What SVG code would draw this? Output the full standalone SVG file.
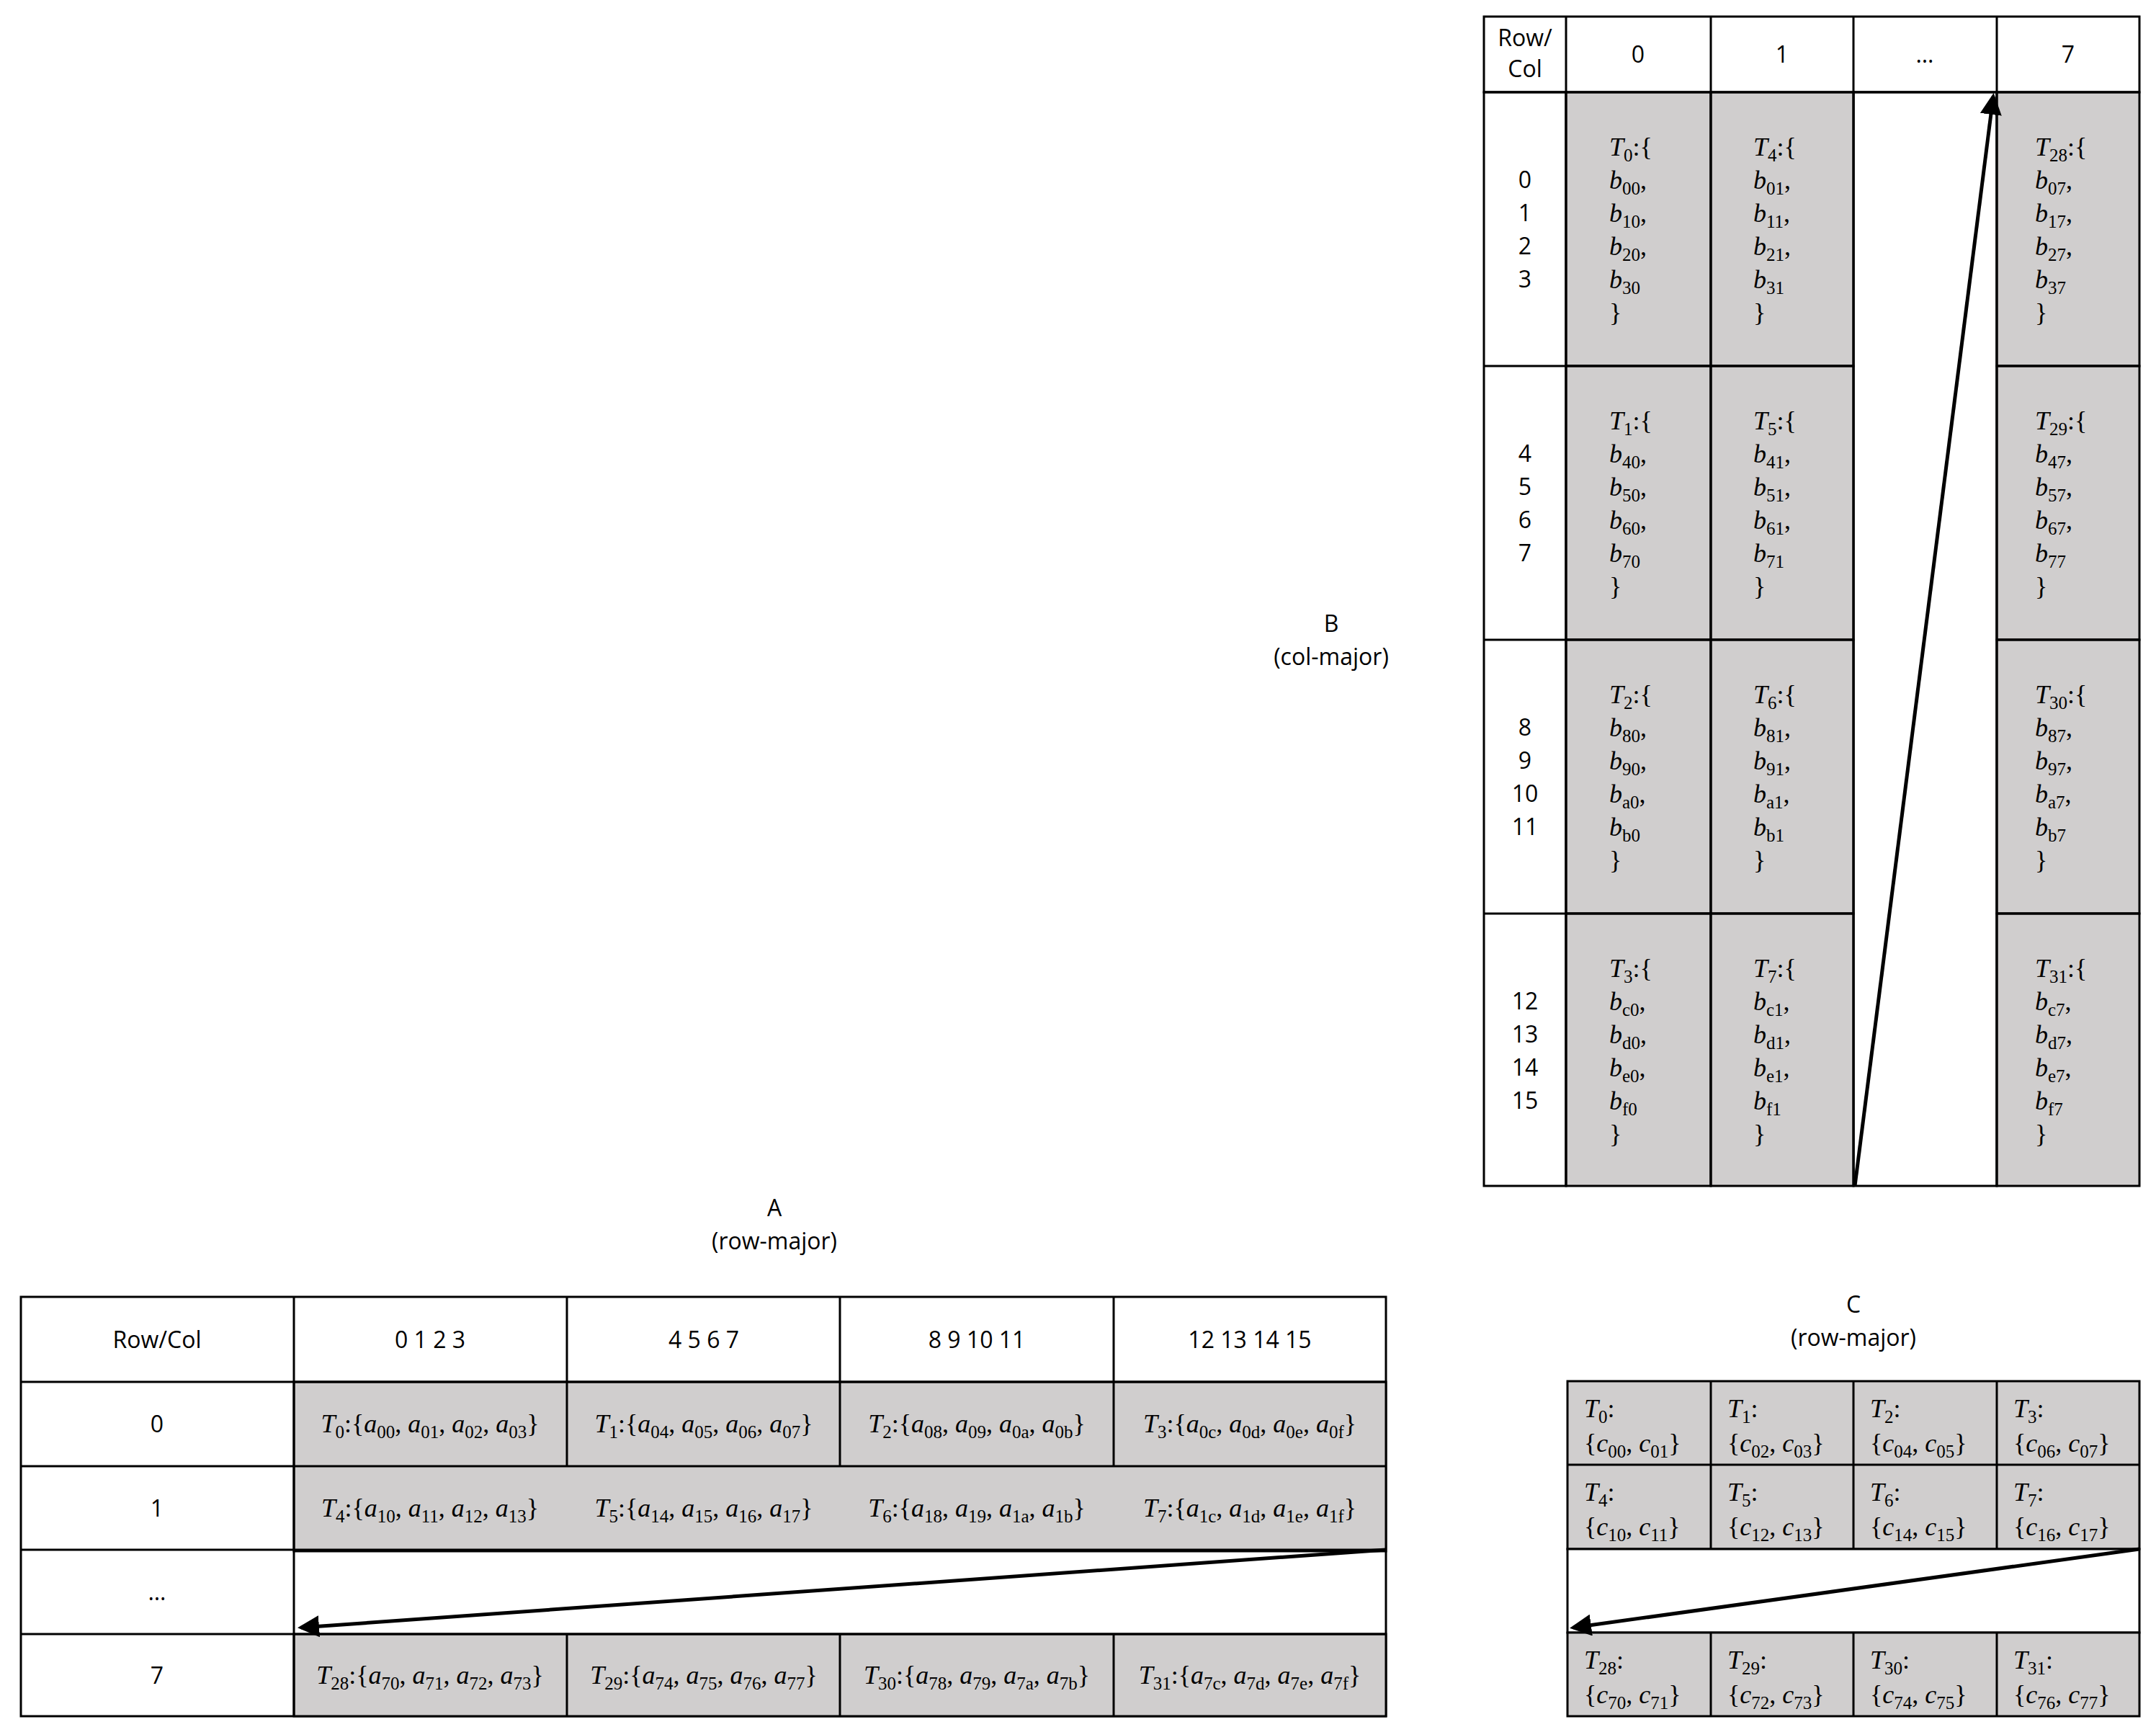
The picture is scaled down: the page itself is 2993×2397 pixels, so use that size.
<svg xmlns="http://www.w3.org/2000/svg" width="2993" height="2397" viewBox="0 0 2993 2397">
<style>
.t{font-family:"Open Sans","Liberation Sans",sans-serif;font-size:32px;fill:#000}
.c{text-anchor:middle}
.m{font-family:"Liberation Serif",serif;font-size:36px;fill:#000}
.i{font-style:italic}
.s{font-size:25px}
.g{fill:#d0cece;stroke:#000;stroke-width:3}
.w{fill:#fff;stroke:#000;stroke-width:3}
.a{stroke:#000;stroke-width:5;fill:none;marker-end:url(#ah)}
</style>
<defs><marker id="ah" markerWidth="6" markerHeight="6" refX="5" refY="3" orient="auto" markerUnits="strokeWidth"><path d="M0,0 L6,3 L0,6 Z" fill="#000"/></marker></defs>
<rect width="2993" height="2397" fill="#fff"/>

<g id="B">
<text class="t c" x="1848" y="877">B</text><text class="t c" x="1848" y="923">(col-major)</text>
<rect class="w" x="2060" y="23" width="910" height="105"/>
<rect class="w" x="2060" y="128" width="114" height="1518"/>
<rect class="w" x="2573" y="128" width="199" height="1518"/>
<rect class="g" x="2174" y="128" width="201" height="380"/><rect class="g" x="2375" y="128" width="198" height="380"/><rect class="g" x="2772" y="128" width="198" height="380"/>
<rect class="g" x="2174" y="508" width="201" height="380"/><rect class="g" x="2375" y="508" width="198" height="380"/><rect class="g" x="2772" y="508" width="198" height="380"/>
<rect class="g" x="2174" y="888" width="201" height="380"/><rect class="g" x="2375" y="888" width="198" height="380"/><rect class="g" x="2772" y="888" width="198" height="380"/>
<rect class="g" x="2174" y="1268" width="201" height="378"/><rect class="g" x="2375" y="1268" width="198" height="378"/><rect class="g" x="2772" y="1268" width="198" height="378"/>
<path d="M2174 23V1646M2375 23V1646M2573 23V1646M2772 23V1646M2060 128H2970M2060 508H2573M2772 508H2970M2060 888H2573M2772 888H2970M2060 1268H2573M2772 1268H2970" stroke="#000" stroke-width="3"/>
<text class="t c" x="2117" y="64">Row/</text><text class="t c" x="2117" y="107">Col</text>
<text class="t c" x="2274" y="87">0</text><text class="t c" x="2474" y="87">1</text><text class="t c" x="2672" y="87">…</text><text class="t c" x="2871" y="87">7</text>
<g class="t c"><text x="2117" y="261">0</text><text x="2117" y="307">1</text><text x="2117" y="353">2</text><text x="2117" y="399">3</text>
<text x="2117" y="641">4</text><text x="2117" y="687">5</text><text x="2117" y="733">6</text><text x="2117" y="779">7</text>
<text x="2117" y="1021">8</text><text x="2117" y="1067">9</text><text x="2117" y="1113">10</text><text x="2117" y="1159">11</text>
<text x="2117" y="1401">12</text><text x="2117" y="1447">13</text><text x="2117" y="1493">14</text><text x="2117" y="1539">15</text></g>
<g class="m">
<text x="2234" y="216"><tspan class="i">T</tspan><tspan class="s" dy="8">0</tspan><tspan dy="-8">:{</tspan><tspan class="i" x="2234" dy="46">b</tspan><tspan class="s" dy="8">00</tspan><tspan dy="-8">,</tspan><tspan class="i" x="2234" dy="46">b</tspan><tspan class="s" dy="8">10</tspan><tspan dy="-8">,</tspan><tspan class="i" x="2234" dy="46">b</tspan><tspan class="s" dy="8">20</tspan><tspan dy="-8">,</tspan><tspan class="i" x="2234" dy="46">b</tspan><tspan class="s" dy="8">30</tspan><tspan x="2234" dy="38">}</tspan></text>
<text x="2434" y="216"><tspan class="i">T</tspan><tspan class="s" dy="8">4</tspan><tspan dy="-8">:{</tspan><tspan class="i" x="2434" dy="46">b</tspan><tspan class="s" dy="8">01</tspan><tspan dy="-8">,</tspan><tspan class="i" x="2434" dy="46">b</tspan><tspan class="s" dy="8">11</tspan><tspan dy="-8">,</tspan><tspan class="i" x="2434" dy="46">b</tspan><tspan class="s" dy="8">21</tspan><tspan dy="-8">,</tspan><tspan class="i" x="2434" dy="46">b</tspan><tspan class="s" dy="8">31</tspan><tspan x="2434" dy="38">}</tspan></text>
<text x="2825" y="216"><tspan class="i">T</tspan><tspan class="s" dy="8">28</tspan><tspan dy="-8">:{</tspan><tspan class="i" x="2825" dy="46">b</tspan><tspan class="s" dy="8">07</tspan><tspan dy="-8">,</tspan><tspan class="i" x="2825" dy="46">b</tspan><tspan class="s" dy="8">17</tspan><tspan dy="-8">,</tspan><tspan class="i" x="2825" dy="46">b</tspan><tspan class="s" dy="8">27</tspan><tspan dy="-8">,</tspan><tspan class="i" x="2825" dy="46">b</tspan><tspan class="s" dy="8">37</tspan><tspan x="2825" dy="38">}</tspan></text>
<text x="2234" y="596"><tspan class="i">T</tspan><tspan class="s" dy="8">1</tspan><tspan dy="-8">:{</tspan><tspan class="i" x="2234" dy="46">b</tspan><tspan class="s" dy="8">40</tspan><tspan dy="-8">,</tspan><tspan class="i" x="2234" dy="46">b</tspan><tspan class="s" dy="8">50</tspan><tspan dy="-8">,</tspan><tspan class="i" x="2234" dy="46">b</tspan><tspan class="s" dy="8">60</tspan><tspan dy="-8">,</tspan><tspan class="i" x="2234" dy="46">b</tspan><tspan class="s" dy="8">70</tspan><tspan x="2234" dy="38">}</tspan></text>
<text x="2434" y="596"><tspan class="i">T</tspan><tspan class="s" dy="8">5</tspan><tspan dy="-8">:{</tspan><tspan class="i" x="2434" dy="46">b</tspan><tspan class="s" dy="8">41</tspan><tspan dy="-8">,</tspan><tspan class="i" x="2434" dy="46">b</tspan><tspan class="s" dy="8">51</tspan><tspan dy="-8">,</tspan><tspan class="i" x="2434" dy="46">b</tspan><tspan class="s" dy="8">61</tspan><tspan dy="-8">,</tspan><tspan class="i" x="2434" dy="46">b</tspan><tspan class="s" dy="8">71</tspan><tspan x="2434" dy="38">}</tspan></text>
<text x="2825" y="596"><tspan class="i">T</tspan><tspan class="s" dy="8">29</tspan><tspan dy="-8">:{</tspan><tspan class="i" x="2825" dy="46">b</tspan><tspan class="s" dy="8">47</tspan><tspan dy="-8">,</tspan><tspan class="i" x="2825" dy="46">b</tspan><tspan class="s" dy="8">57</tspan><tspan dy="-8">,</tspan><tspan class="i" x="2825" dy="46">b</tspan><tspan class="s" dy="8">67</tspan><tspan dy="-8">,</tspan><tspan class="i" x="2825" dy="46">b</tspan><tspan class="s" dy="8">77</tspan><tspan x="2825" dy="38">}</tspan></text>
<text x="2234" y="976"><tspan class="i">T</tspan><tspan class="s" dy="8">2</tspan><tspan dy="-8">:{</tspan><tspan class="i" x="2234" dy="46">b</tspan><tspan class="s" dy="8">80</tspan><tspan dy="-8">,</tspan><tspan class="i" x="2234" dy="46">b</tspan><tspan class="s" dy="8">90</tspan><tspan dy="-8">,</tspan><tspan class="i" x="2234" dy="46">b</tspan><tspan class="s" dy="8">a0</tspan><tspan dy="-8">,</tspan><tspan class="i" x="2234" dy="46">b</tspan><tspan class="s" dy="8">b0</tspan><tspan x="2234" dy="38">}</tspan></text>
<text x="2434" y="976"><tspan class="i">T</tspan><tspan class="s" dy="8">6</tspan><tspan dy="-8">:{</tspan><tspan class="i" x="2434" dy="46">b</tspan><tspan class="s" dy="8">81</tspan><tspan dy="-8">,</tspan><tspan class="i" x="2434" dy="46">b</tspan><tspan class="s" dy="8">91</tspan><tspan dy="-8">,</tspan><tspan class="i" x="2434" dy="46">b</tspan><tspan class="s" dy="8">a1</tspan><tspan dy="-8">,</tspan><tspan class="i" x="2434" dy="46">b</tspan><tspan class="s" dy="8">b1</tspan><tspan x="2434" dy="38">}</tspan></text>
<text x="2825" y="976"><tspan class="i">T</tspan><tspan class="s" dy="8">30</tspan><tspan dy="-8">:{</tspan><tspan class="i" x="2825" dy="46">b</tspan><tspan class="s" dy="8">87</tspan><tspan dy="-8">,</tspan><tspan class="i" x="2825" dy="46">b</tspan><tspan class="s" dy="8">97</tspan><tspan dy="-8">,</tspan><tspan class="i" x="2825" dy="46">b</tspan><tspan class="s" dy="8">a7</tspan><tspan dy="-8">,</tspan><tspan class="i" x="2825" dy="46">b</tspan><tspan class="s" dy="8">b7</tspan><tspan x="2825" dy="38">}</tspan></text>
<text x="2234" y="1356"><tspan class="i">T</tspan><tspan class="s" dy="8">3</tspan><tspan dy="-8">:{</tspan><tspan class="i" x="2234" dy="46">b</tspan><tspan class="s" dy="8">c0</tspan><tspan dy="-8">,</tspan><tspan class="i" x="2234" dy="46">b</tspan><tspan class="s" dy="8">d0</tspan><tspan dy="-8">,</tspan><tspan class="i" x="2234" dy="46">b</tspan><tspan class="s" dy="8">e0</tspan><tspan dy="-8">,</tspan><tspan class="i" x="2234" dy="46">b</tspan><tspan class="s" dy="8">f0</tspan><tspan x="2234" dy="38">}</tspan></text>
<text x="2434" y="1356"><tspan class="i">T</tspan><tspan class="s" dy="8">7</tspan><tspan dy="-8">:{</tspan><tspan class="i" x="2434" dy="46">b</tspan><tspan class="s" dy="8">c1</tspan><tspan dy="-8">,</tspan><tspan class="i" x="2434" dy="46">b</tspan><tspan class="s" dy="8">d1</tspan><tspan dy="-8">,</tspan><tspan class="i" x="2434" dy="46">b</tspan><tspan class="s" dy="8">e1</tspan><tspan dy="-8">,</tspan><tspan class="i" x="2434" dy="46">b</tspan><tspan class="s" dy="8">f1</tspan><tspan x="2434" dy="38">}</tspan></text>
<text x="2825" y="1356"><tspan class="i">T</tspan><tspan class="s" dy="8">31</tspan><tspan dy="-8">:{</tspan><tspan class="i" x="2825" dy="46">b</tspan><tspan class="s" dy="8">c7</tspan><tspan dy="-8">,</tspan><tspan class="i" x="2825" dy="46">b</tspan><tspan class="s" dy="8">d7</tspan><tspan dy="-8">,</tspan><tspan class="i" x="2825" dy="46">b</tspan><tspan class="s" dy="8">e7</tspan><tspan dy="-8">,</tspan><tspan class="i" x="2825" dy="46">b</tspan><tspan class="s" dy="8">f7</tspan><tspan x="2825" dy="38">}</tspan></text>
</g>
</g>

<g id="A">
<text class="t c" x="1075" y="1688">A</text><text class="t c" x="1075" y="1734">(row-major)</text>
<rect class="w" x="29" y="1800" width="1895" height="582"/>
<rect class="g" x="408" y="1918" width="1516" height="235"/>
<rect class="g" x="408" y="2268" width="1516" height="114"/>
<path d="M29 1918H1924M29 2035H1924M29 2151H1924M29 2268H1924M408 1800V2382M787 1800V2035M1166 1800V2035M1546 1800V2035M787 2268V2382M1166 2268V2382M1546 2268V2382" stroke="#000" stroke-width="3"/>
<g class="t c"><text x="218" y="1871">Row/Col</text><text x="597" y="1871">0 1 2 3</text><text x="977" y="1871">4 5 6 7</text><text x="1356" y="1871">8 9 10 11</text><text x="1735" y="1871">12 13 14 15</text>
<text x="218" y="1988">0</text><text x="218" y="2105">1</text><text x="218" y="2221">…</text><text x="218" y="2337">7</text></g>
<g class="m c">
<text x="597" y="1988"><tspan class="i">T</tspan><tspan class="s" dy="8">0</tspan><tspan dy="-8">:{</tspan><tspan class="i">a</tspan><tspan class="s" dy="8">00</tspan><tspan dy="-8">, </tspan><tspan class="i">a</tspan><tspan class="s" dy="8">01</tspan><tspan dy="-8">, </tspan><tspan class="i">a</tspan><tspan class="s" dy="8">02</tspan><tspan dy="-8">, </tspan><tspan class="i">a</tspan><tspan class="s" dy="8">03</tspan><tspan dy="-8">}</tspan></text>
<text x="977" y="1988"><tspan class="i">T</tspan><tspan class="s" dy="8">1</tspan><tspan dy="-8">:{</tspan><tspan class="i">a</tspan><tspan class="s" dy="8">04</tspan><tspan dy="-8">, </tspan><tspan class="i">a</tspan><tspan class="s" dy="8">05</tspan><tspan dy="-8">, </tspan><tspan class="i">a</tspan><tspan class="s" dy="8">06</tspan><tspan dy="-8">, </tspan><tspan class="i">a</tspan><tspan class="s" dy="8">07</tspan><tspan dy="-8">}</tspan></text>
<text x="1356" y="1988"><tspan class="i">T</tspan><tspan class="s" dy="8">2</tspan><tspan dy="-8">:{</tspan><tspan class="i">a</tspan><tspan class="s" dy="8">08</tspan><tspan dy="-8">, </tspan><tspan class="i">a</tspan><tspan class="s" dy="8">09</tspan><tspan dy="-8">, </tspan><tspan class="i">a</tspan><tspan class="s" dy="8">0a</tspan><tspan dy="-8">, </tspan><tspan class="i">a</tspan><tspan class="s" dy="8">0b</tspan><tspan dy="-8">}</tspan></text>
<text x="1735" y="1988"><tspan class="i">T</tspan><tspan class="s" dy="8">3</tspan><tspan dy="-8">:{</tspan><tspan class="i">a</tspan><tspan class="s" dy="8">0c</tspan><tspan dy="-8">, </tspan><tspan class="i">a</tspan><tspan class="s" dy="8">0d</tspan><tspan dy="-8">, </tspan><tspan class="i">a</tspan><tspan class="s" dy="8">0e</tspan><tspan dy="-8">, </tspan><tspan class="i">a</tspan><tspan class="s" dy="8">0f</tspan><tspan dy="-8">}</tspan></text>
<text x="597" y="2105"><tspan class="i">T</tspan><tspan class="s" dy="8">4</tspan><tspan dy="-8">:{</tspan><tspan class="i">a</tspan><tspan class="s" dy="8">10</tspan><tspan dy="-8">, </tspan><tspan class="i">a</tspan><tspan class="s" dy="8">11</tspan><tspan dy="-8">, </tspan><tspan class="i">a</tspan><tspan class="s" dy="8">12</tspan><tspan dy="-8">, </tspan><tspan class="i">a</tspan><tspan class="s" dy="8">13</tspan><tspan dy="-8">}</tspan></text>
<text x="977" y="2105"><tspan class="i">T</tspan><tspan class="s" dy="8">5</tspan><tspan dy="-8">:{</tspan><tspan class="i">a</tspan><tspan class="s" dy="8">14</tspan><tspan dy="-8">, </tspan><tspan class="i">a</tspan><tspan class="s" dy="8">15</tspan><tspan dy="-8">, </tspan><tspan class="i">a</tspan><tspan class="s" dy="8">16</tspan><tspan dy="-8">, </tspan><tspan class="i">a</tspan><tspan class="s" dy="8">17</tspan><tspan dy="-8">}</tspan></text>
<text x="1356" y="2105"><tspan class="i">T</tspan><tspan class="s" dy="8">6</tspan><tspan dy="-8">:{</tspan><tspan class="i">a</tspan><tspan class="s" dy="8">18</tspan><tspan dy="-8">, </tspan><tspan class="i">a</tspan><tspan class="s" dy="8">19</tspan><tspan dy="-8">, </tspan><tspan class="i">a</tspan><tspan class="s" dy="8">1a</tspan><tspan dy="-8">, </tspan><tspan class="i">a</tspan><tspan class="s" dy="8">1b</tspan><tspan dy="-8">}</tspan></text>
<text x="1735" y="2105"><tspan class="i">T</tspan><tspan class="s" dy="8">7</tspan><tspan dy="-8">:{</tspan><tspan class="i">a</tspan><tspan class="s" dy="8">1c</tspan><tspan dy="-8">, </tspan><tspan class="i">a</tspan><tspan class="s" dy="8">1d</tspan><tspan dy="-8">, </tspan><tspan class="i">a</tspan><tspan class="s" dy="8">1e</tspan><tspan dy="-8">, </tspan><tspan class="i">a</tspan><tspan class="s" dy="8">1f</tspan><tspan dy="-8">}</tspan></text>
<text x="597" y="2337"><tspan class="i">T</tspan><tspan class="s" dy="8">28</tspan><tspan dy="-8">:{</tspan><tspan class="i">a</tspan><tspan class="s" dy="8">70</tspan><tspan dy="-8">, </tspan><tspan class="i">a</tspan><tspan class="s" dy="8">71</tspan><tspan dy="-8">, </tspan><tspan class="i">a</tspan><tspan class="s" dy="8">72</tspan><tspan dy="-8">, </tspan><tspan class="i">a</tspan><tspan class="s" dy="8">73</tspan><tspan dy="-8">}</tspan></text>
<text x="977" y="2337"><tspan class="i">T</tspan><tspan class="s" dy="8">29</tspan><tspan dy="-8">:{</tspan><tspan class="i">a</tspan><tspan class="s" dy="8">74</tspan><tspan dy="-8">, </tspan><tspan class="i">a</tspan><tspan class="s" dy="8">75</tspan><tspan dy="-8">, </tspan><tspan class="i">a</tspan><tspan class="s" dy="8">76</tspan><tspan dy="-8">, </tspan><tspan class="i">a</tspan><tspan class="s" dy="8">77</tspan><tspan dy="-8">}</tspan></text>
<text x="1356" y="2337"><tspan class="i">T</tspan><tspan class="s" dy="8">30</tspan><tspan dy="-8">:{</tspan><tspan class="i">a</tspan><tspan class="s" dy="8">78</tspan><tspan dy="-8">, </tspan><tspan class="i">a</tspan><tspan class="s" dy="8">79</tspan><tspan dy="-8">, </tspan><tspan class="i">a</tspan><tspan class="s" dy="8">7a</tspan><tspan dy="-8">, </tspan><tspan class="i">a</tspan><tspan class="s" dy="8">7b</tspan><tspan dy="-8">}</tspan></text>
<text x="1735" y="2337"><tspan class="i">T</tspan><tspan class="s" dy="8">31</tspan><tspan dy="-8">:{</tspan><tspan class="i">a</tspan><tspan class="s" dy="8">7c</tspan><tspan dy="-8">, </tspan><tspan class="i">a</tspan><tspan class="s" dy="8">7d</tspan><tspan dy="-8">, </tspan><tspan class="i">a</tspan><tspan class="s" dy="8">7e</tspan><tspan dy="-8">, </tspan><tspan class="i">a</tspan><tspan class="s" dy="8">7f</tspan><tspan dy="-8">}</tspan></text>
</g>
</g>

<g id="C">
<text class="t c" x="2573" y="1822">C</text><text class="t c" x="2573" y="1868">(row-major)</text>
<rect class="g" x="2176" y="1917" width="794" height="233"/>
<rect class="w" x="2176" y="2150" width="794" height="116"/>
<rect class="g" x="2176" y="2266" width="794" height="116"/>
<path d="M2176 2033H2970M2375 1917V2150M2573 1917V2150M2772 1917V2150M2375 2266V2382M2573 2266V2382M2772 2266V2382" stroke="#000" stroke-width="3"/>
<g class="m">
<text x="2199" y="1967"><tspan class="i">T</tspan><tspan class="s" dy="8">0</tspan><tspan dy="-8">:</tspan><tspan x="2199" dy="48">{</tspan><tspan class="i">c</tspan><tspan class="s" dy="8">00</tspan><tspan dy="-8">, </tspan><tspan class="i">c</tspan><tspan class="s" dy="8">01</tspan><tspan dy="-8">}</tspan></text>
<text x="2398" y="1967"><tspan class="i">T</tspan><tspan class="s" dy="8">1</tspan><tspan dy="-8">:</tspan><tspan x="2398" dy="48">{</tspan><tspan class="i">c</tspan><tspan class="s" dy="8">02</tspan><tspan dy="-8">, </tspan><tspan class="i">c</tspan><tspan class="s" dy="8">03</tspan><tspan dy="-8">}</tspan></text>
<text x="2596" y="1967"><tspan class="i">T</tspan><tspan class="s" dy="8">2</tspan><tspan dy="-8">:</tspan><tspan x="2596" dy="48">{</tspan><tspan class="i">c</tspan><tspan class="s" dy="8">04</tspan><tspan dy="-8">, </tspan><tspan class="i">c</tspan><tspan class="s" dy="8">05</tspan><tspan dy="-8">}</tspan></text>
<text x="2795" y="1967"><tspan class="i">T</tspan><tspan class="s" dy="8">3</tspan><tspan dy="-8">:</tspan><tspan x="2795" dy="48">{</tspan><tspan class="i">c</tspan><tspan class="s" dy="8">06</tspan><tspan dy="-8">, </tspan><tspan class="i">c</tspan><tspan class="s" dy="8">07</tspan><tspan dy="-8">}</tspan></text>
<text x="2199" y="2083"><tspan class="i">T</tspan><tspan class="s" dy="8">4</tspan><tspan dy="-8">:</tspan><tspan x="2199" dy="48">{</tspan><tspan class="i">c</tspan><tspan class="s" dy="8">10</tspan><tspan dy="-8">, </tspan><tspan class="i">c</tspan><tspan class="s" dy="8">11</tspan><tspan dy="-8">}</tspan></text>
<text x="2398" y="2083"><tspan class="i">T</tspan><tspan class="s" dy="8">5</tspan><tspan dy="-8">:</tspan><tspan x="2398" dy="48">{</tspan><tspan class="i">c</tspan><tspan class="s" dy="8">12</tspan><tspan dy="-8">, </tspan><tspan class="i">c</tspan><tspan class="s" dy="8">13</tspan><tspan dy="-8">}</tspan></text>
<text x="2596" y="2083"><tspan class="i">T</tspan><tspan class="s" dy="8">6</tspan><tspan dy="-8">:</tspan><tspan x="2596" dy="48">{</tspan><tspan class="i">c</tspan><tspan class="s" dy="8">14</tspan><tspan dy="-8">, </tspan><tspan class="i">c</tspan><tspan class="s" dy="8">15</tspan><tspan dy="-8">}</tspan></text>
<text x="2795" y="2083"><tspan class="i">T</tspan><tspan class="s" dy="8">7</tspan><tspan dy="-8">:</tspan><tspan x="2795" dy="48">{</tspan><tspan class="i">c</tspan><tspan class="s" dy="8">16</tspan><tspan dy="-8">, </tspan><tspan class="i">c</tspan><tspan class="s" dy="8">17</tspan><tspan dy="-8">}</tspan></text>
<text x="2199" y="2316"><tspan class="i">T</tspan><tspan class="s" dy="8">28</tspan><tspan dy="-8">:</tspan><tspan x="2199" dy="48">{</tspan><tspan class="i">c</tspan><tspan class="s" dy="8">70</tspan><tspan dy="-8">, </tspan><tspan class="i">c</tspan><tspan class="s" dy="8">71</tspan><tspan dy="-8">}</tspan></text>
<text x="2398" y="2316"><tspan class="i">T</tspan><tspan class="s" dy="8">29</tspan><tspan dy="-8">:</tspan><tspan x="2398" dy="48">{</tspan><tspan class="i">c</tspan><tspan class="s" dy="8">72</tspan><tspan dy="-8">, </tspan><tspan class="i">c</tspan><tspan class="s" dy="8">73</tspan><tspan dy="-8">}</tspan></text>
<text x="2596" y="2316"><tspan class="i">T</tspan><tspan class="s" dy="8">30</tspan><tspan dy="-8">:</tspan><tspan x="2596" dy="48">{</tspan><tspan class="i">c</tspan><tspan class="s" dy="8">74</tspan><tspan dy="-8">, </tspan><tspan class="i">c</tspan><tspan class="s" dy="8">75</tspan><tspan dy="-8">}</tspan></text>
<text x="2795" y="2316"><tspan class="i">T</tspan><tspan class="s" dy="8">31</tspan><tspan dy="-8">:</tspan><tspan x="2795" dy="48">{</tspan><tspan class="i">c</tspan><tspan class="s" dy="8">76</tspan><tspan dy="-8">, </tspan><tspan class="i">c</tspan><tspan class="s" dy="8">77</tspan><tspan dy="-8">}</tspan></text>
</g>
</g>

<g id="connectors">
<line class="a" x1="2575" y1="1646" x2="2767" y2="134"/>
<line class="a" x1="1924" y1="2151" x2="418" y2="2259"/>
<line class="a" x1="2970" y1="2150" x2="2184" y2="2259"/>
</g>
</svg>
